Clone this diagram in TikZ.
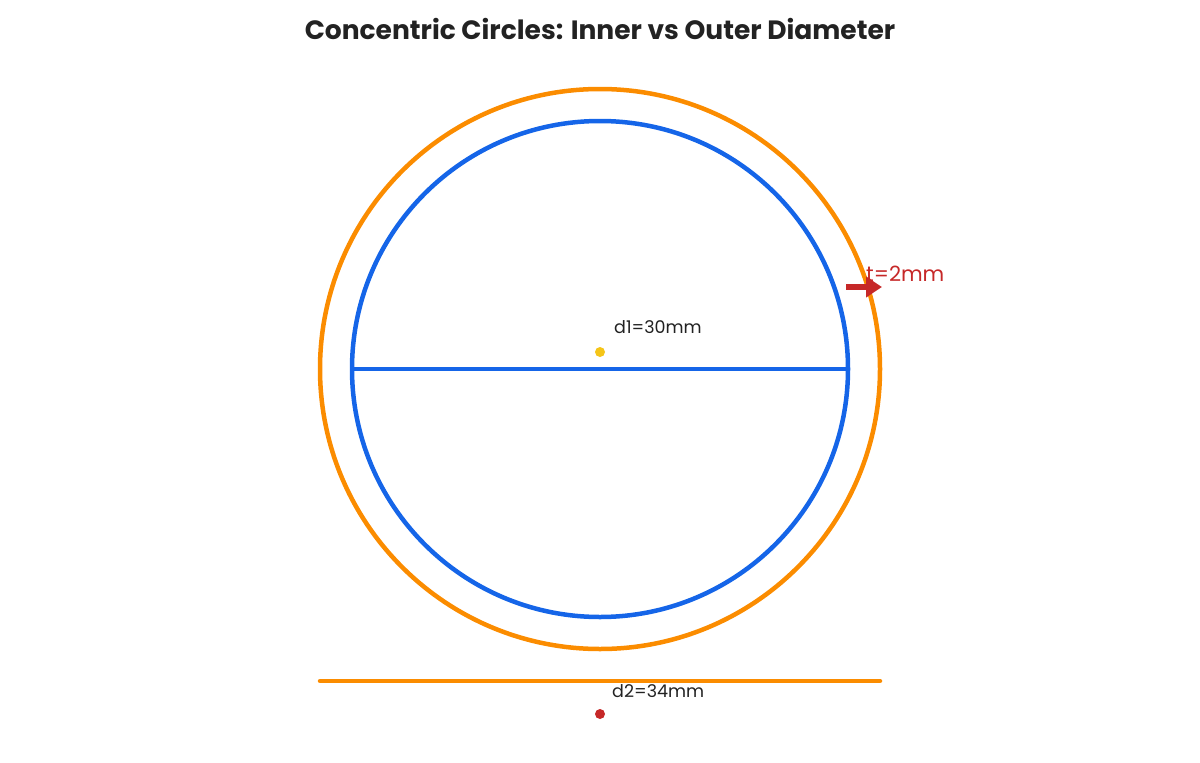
\documentclass[tikz,border=0pt]{standalone}
\usepackage{fontspec}
\setmainfont{Poppins}
\usetikzlibrary{arrows.meta}
\definecolor{og}{HTML}{FB8C00}
\definecolor{bl}{HTML}{1565E8}
\definecolor{rd}{HTML}{C62828}
\definecolor{yl}{HTML}{F5C518}
\definecolor{tx}{HTML}{222222}
\tikzset{lbl/.style={anchor=west,inner sep=0pt,text=tx,font=\fontsize{17.5}{17.5}\selectfont}}
\begin{document}
\begin{tikzpicture}[x=1pt,y=-1pt]
\useasboundingbox (0,0) rectangle (1200,763);
\node[font=\bfseries\fontsize{26.5}{26.5}\selectfont,text=tx] (title) at (600,29) {Concentric Circles: Inner vs Outer Diameter};
\coordinate (c) at (600,369);
\draw[og,line width=4.5pt] (c) circle[radius=280];
\draw[bl,line width=4.5pt] (c) circle[radius=248];
\coordinate (dl) at (352,369); \coordinate (dr) at (848,369);
\draw[bl,line width=4.5pt] (dl) -- (dr);
\fill[yl] (600,352) circle[radius=5];
\node[lbl] (d1) at (614,327) {d1=30mm};
\coordinate (ol) at (320,681); \coordinate (or) at (880,681);
\draw[og,line width=4.5pt,line cap=round] (ol) -- (or);
\fill[rd] (600,714) circle[radius=5];
\node[lbl] (d2) at (612,691) {d2=34mm};
\coordinate (a1) at (846,287); \coordinate (a2) at (882,287);
\draw[rd,line width=6pt,-{Triangle[length=16pt,width=20pt]}] (a1) -- (a2);
\node[lbl,text=rd,font=\fontsize{21}{21}\selectfont] (t) at (866,274) {t=2mm};
\end{tikzpicture}
\end{document}
